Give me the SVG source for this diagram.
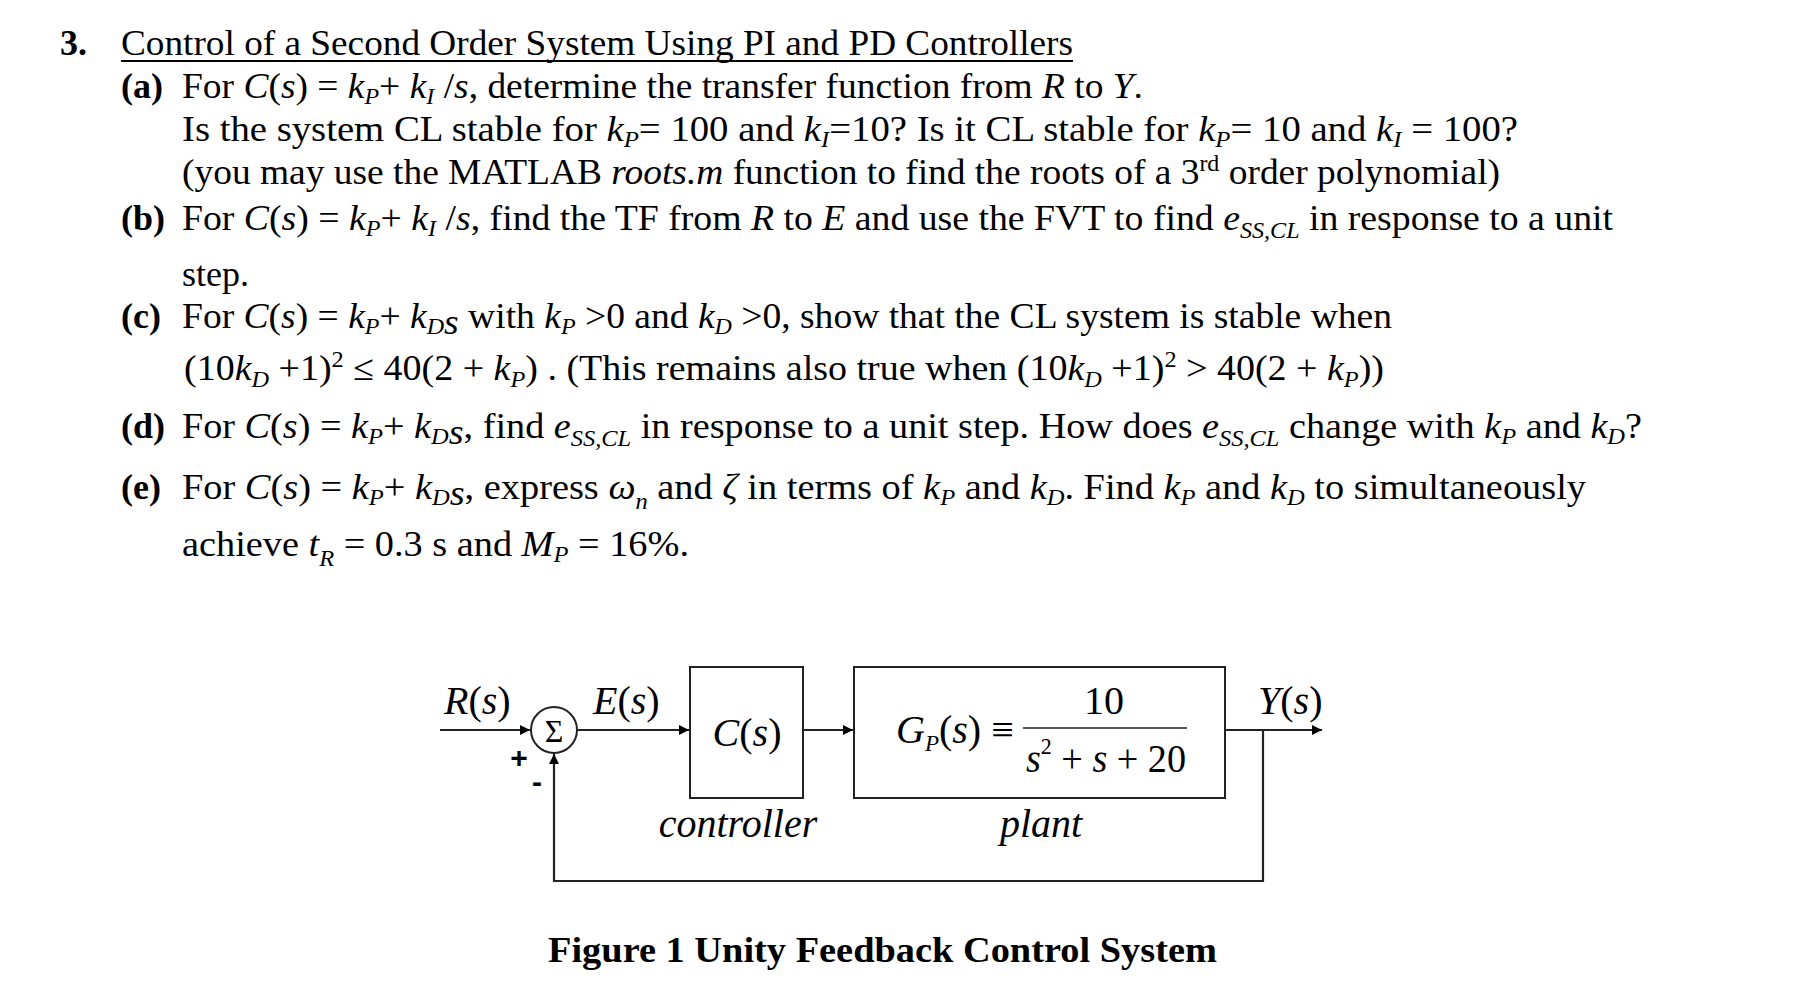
<svg xmlns="http://www.w3.org/2000/svg" width="1797" height="990" viewBox="0 0 1797 990">
<style>
text{font-family:"Liberation Serif","Times New Roman",serif;fill:#000}
.t{font-size:36px}
.b{font-weight:bold}
.i{font-style:italic}
.s{font-size:23px}
.d{font-size:40px}
.ln{stroke:#222;stroke-width:2.2;fill:none}
</style>
<defs>
<marker id="ah" viewBox="0 0 10 10" refX="10" refY="5" markerWidth="10" markerHeight="10" markerUnits="userSpaceOnUse" orient="auto"><path d="M0,0 L10,5 L0,10 z" fill="#000"/></marker>
</defs>
<rect width="1797" height="990" fill="#fff"/>
<g id="question">
<text class="t b" x="60" y="55">3.</text>
<text class="t" x="121" y="55" textLength="952" lengthAdjust="spacingAndGlyphs">Control of a Second Order System Using PI and PD Controllers</text>
<line x1="121" y1="61" x2="1073" y2="61" stroke="#000" stroke-width="2"/>
<text class="t b" x="121" y="98">(a)</text>
<text class="t" x="182" y="98" textLength="961" lengthAdjust="spacingAndGlyphs">For <tspan class="i">C</tspan>(<tspan class="i">s</tspan>) = <tspan class="i">k<tspan class="s" dy="6">P</tspan></tspan><tspan dy="-6">+ </tspan><tspan class="i">k<tspan class="s" dy="6">I</tspan></tspan><tspan dy="-6"> /</tspan><tspan class="i">s</tspan>, determine the transfer function from <tspan class="i">R</tspan> to <tspan class="i">Y</tspan>.</text>
<text class="t" x="182" y="141" textLength="1336" lengthAdjust="spacingAndGlyphs">Is the system CL stable for <tspan class="i">k<tspan class="s" dy="6">P</tspan></tspan><tspan dy="-6">= 100 and </tspan><tspan class="i">k<tspan class="s" dy="6">I</tspan></tspan><tspan dy="-6">=10?   Is it CL stable for </tspan><tspan class="i">k<tspan class="s" dy="6">P</tspan></tspan><tspan dy="-6">= 10 and </tspan><tspan class="i">k<tspan class="s" dy="6">I</tspan></tspan><tspan dy="-6">  = 100?</tspan></text>
<text class="t" x="182" y="184" textLength="1318" lengthAdjust="spacingAndGlyphs">(you may use the MATLAB <tspan class="i">roots.m</tspan> function to find the roots of a 3<tspan class="s" dy="-13">rd</tspan><tspan dy="13"> order polynomial)</tspan></text>
<text class="t b" x="121" y="230">(b)</text>
<text class="t" x="182" y="230" textLength="1431" lengthAdjust="spacingAndGlyphs">For <tspan class="i">C</tspan>(<tspan class="i">s</tspan>) = <tspan class="i">k<tspan class="s" dy="6">P</tspan></tspan><tspan dy="-6">+ </tspan><tspan class="i">k<tspan class="s" dy="6">I</tspan></tspan><tspan dy="-6"> /</tspan><tspan class="i">s</tspan>, find the TF from <tspan class="i">R</tspan> to <tspan class="i">E</tspan> and use the FVT to find <tspan class="i">e<tspan class="s" dy="8">SS,CL</tspan></tspan><tspan dy="-8">  in response to a unit</tspan></text>
<text class="t" x="182" y="286">step.</text>
<text class="t b" x="121" y="328">(c)</text>
<text class="t" x="182" y="328" textLength="1210" lengthAdjust="spacingAndGlyphs">For <tspan class="i">C</tspan>(<tspan class="i">s</tspan>) = <tspan class="i">k<tspan class="s" dy="6">P</tspan></tspan><tspan dy="-6">+ </tspan><tspan class="i">k<tspan class="s" dy="6">D</tspan>s</tspan><tspan dy="-6"> with </tspan><tspan class="i">k<tspan class="s" dy="6">P</tspan></tspan><tspan dy="-6"> &gt;0 and </tspan><tspan class="i">k<tspan class="s" dy="6">D</tspan></tspan><tspan dy="-6"> &gt;0, show that the CL system is stable when</tspan></text>
<text class="t" x="184" y="380" textLength="1200" lengthAdjust="spacingAndGlyphs">(10<tspan class="i">k<tspan class="s" dy="7">D</tspan></tspan><tspan dy="-7"> +1)</tspan><tspan class="s" dy="-13">2</tspan><tspan dy="13"> ≤ 40(2 + </tspan><tspan class="i">k<tspan class="s" dy="7">P</tspan></tspan><tspan dy="-7">) .  (This remains also true when (10</tspan><tspan class="i">k<tspan class="s" dy="7">D</tspan></tspan><tspan dy="-7"> +1)</tspan><tspan class="s" dy="-13">2</tspan><tspan dy="13"> &gt; 40(2 + </tspan><tspan class="i">k<tspan class="s" dy="7">P</tspan></tspan><tspan dy="-7">))</tspan></text>
<text class="t b" x="121" y="438">(d)</text>
<text class="t" x="182" y="438" textLength="1460" lengthAdjust="spacingAndGlyphs">For <tspan class="i">C</tspan>(<tspan class="i">s</tspan>) = <tspan class="i">k<tspan class="s" dy="6">P</tspan></tspan><tspan dy="-6">+ </tspan><tspan class="i">k<tspan class="s" dy="6">D</tspan>s</tspan><tspan dy="-6">, find </tspan><tspan class="i">e<tspan class="s" dy="8">SS,CL</tspan></tspan><tspan dy="-8">  in response to a unit step.  How does </tspan><tspan class="i">e<tspan class="s" dy="8">SS,CL</tspan></tspan><tspan dy="-8">  change with </tspan><tspan class="i">k<tspan class="s" dy="6">P</tspan></tspan><tspan dy="-6"> and </tspan><tspan class="i">k<tspan class="s" dy="6">D</tspan></tspan><tspan dy="-6">?</tspan></text>
<text class="t b" x="121" y="499">(e)</text>
<text class="t" x="182" y="499" textLength="1404" lengthAdjust="spacingAndGlyphs">For <tspan class="i">C</tspan>(<tspan class="i">s</tspan>) = <tspan class="i">k<tspan class="s" dy="6">P</tspan></tspan><tspan dy="-6">+ </tspan><tspan class="i">k<tspan class="s" dy="6">D</tspan>s</tspan><tspan dy="-6">, express </tspan><tspan class="i">ω<tspan class="s" dy="10">n</tspan></tspan><tspan dy="-10">  and </tspan><tspan class="i">ζ</tspan>  in terms of <tspan class="i">k<tspan class="s" dy="6">P</tspan></tspan><tspan dy="-6"> and </tspan><tspan class="i">k<tspan class="s" dy="6">D</tspan></tspan><tspan dy="-6">. Find </tspan><tspan class="i">k<tspan class="s" dy="6">P</tspan></tspan><tspan dy="-6"> and </tspan><tspan class="i">k<tspan class="s" dy="6">D</tspan></tspan><tspan dy="-6"> to simultaneously</tspan></text>
<text class="t" x="182" y="556" textLength="507" lengthAdjust="spacingAndGlyphs">achieve <tspan class="i">t<tspan class="s" dy="10">R</tspan></tspan><tspan dy="-10"> = 0.3  s  and </tspan><tspan class="i">M<tspan class="s" dy="6">P</tspan></tspan><tspan dy="-6"> = 16%.</tspan></text>
</g>
<g id="connectors">
<line class="ln" x1="440" y1="730" x2="530" y2="730" marker-end="url(#ah)"/>
<line class="ln" x1="577" y1="730" x2="689" y2="730" marker-end="url(#ah)"/>
<line class="ln" x1="803" y1="730" x2="853" y2="730" marker-end="url(#ah)"/>
<line class="ln" x1="1225" y1="730" x2="1322" y2="730" marker-end="url(#ah)"/>
<polyline class="ln" points="1263,730 1263,881 554,881 554,754" marker-end="url(#ah)"/>
</g>
<g id="sum">
<circle cx="554" cy="730" r="23" fill="#fff" stroke="#222" stroke-width="2"/>
<text x="554" y="742" font-size="32" text-anchor="middle">Σ</text>
<text x="519" y="768" font-size="30" font-weight="bold" text-anchor="middle" style="font-family:'Liberation Sans',sans-serif">+</text>
<text x="537" y="792" font-size="30" font-weight="bold" text-anchor="middle" style="font-family:'Liberation Sans',sans-serif">-</text>
</g>
<g id="labels">
<text class="d i" x="444" y="714">R<tspan font-style="normal">(</tspan>s<tspan font-style="normal">)</tspan></text>
<text class="d i" x="593" y="714">E<tspan font-style="normal">(</tspan>s<tspan font-style="normal">)</tspan></text>
<text class="d i" x="1258" y="714">Y<tspan font-style="normal">(</tspan>s<tspan font-style="normal">)</tspan></text>
</g>
<g id="controller">
<rect x="690" y="667" width="113" height="131" fill="none" stroke="#222" stroke-width="2"/>
<text class="d i" x="747" y="746" text-anchor="middle">C<tspan font-style="normal">(</tspan>s<tspan font-style="normal">)</tspan></text>
<text class="d i" x="738" y="837" text-anchor="middle">controller</text>
</g>
<g id="plant">
<rect x="854" y="667" width="371" height="131" fill="none" stroke="#222" stroke-width="2"/>
<text class="d" x="896" y="743"><tspan class="i">G</tspan><tspan class="i s" dy="8">P</tspan><tspan dy="-8">(</tspan><tspan class="i">s</tspan>) ≡</text>
<text class="d" x="1104" y="714" text-anchor="middle">10</text>
<line x1="1023" y1="728" x2="1187" y2="728" stroke="#555" stroke-width="2"/>
<text class="d" x="1026" y="772" textLength="160" lengthAdjust="spacingAndGlyphs"><tspan class="i">s</tspan><tspan class="s" dy="-18">2</tspan><tspan dy="18"> + </tspan><tspan class="i">s</tspan> + 20</text>
<text class="d i" x="1041" y="837" text-anchor="middle">plant</text>
</g>
<text class="b" x="548" y="962" font-size="36" textLength="669" lengthAdjust="spacingAndGlyphs">Figure 1   Unity Feedback Control System</text>
</svg>
